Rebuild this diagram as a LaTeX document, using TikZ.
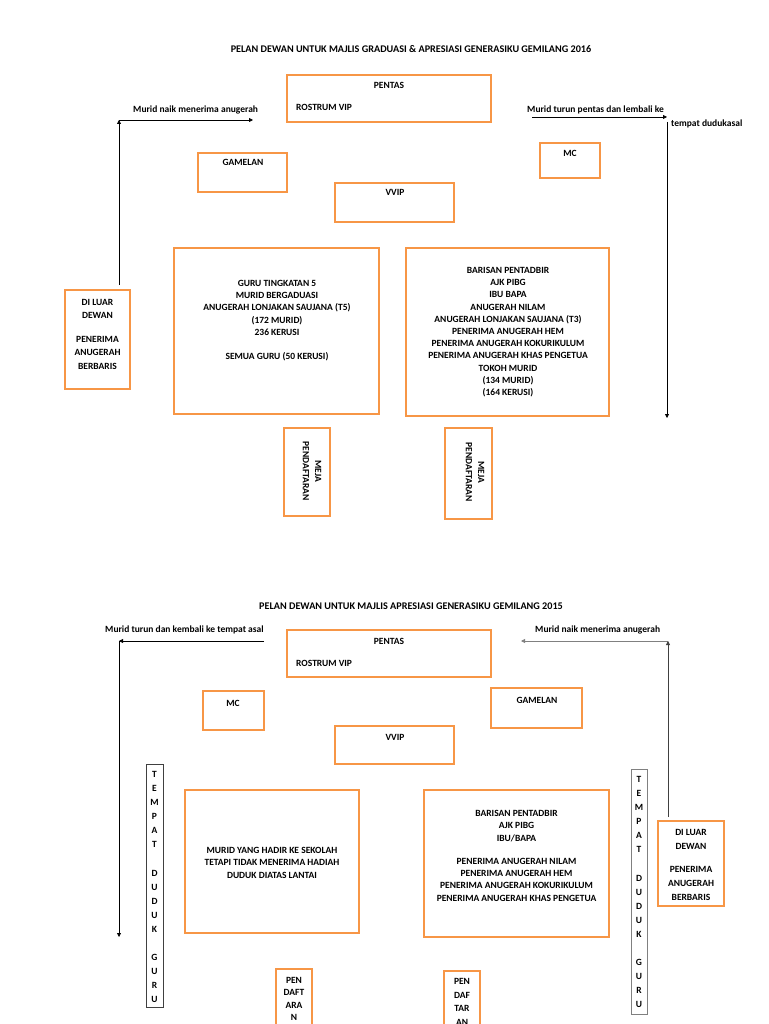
\documentclass[tikz,border=0pt]{standalone}
\usepackage{fontspec}
\setmainfont{Carlito}
\usepackage{tikz}
\usetikzlibrary{arrows.meta}
\definecolor{boxorange}{RGB}{247,150,70}
\definecolor{gurudark}{RGB}{64,64,64}
\definecolor{gurulight}{RGB}{128,128,128}

\begin{document}
\begin{tikzpicture}[
    x=1pt, y=-1pt,
    box/.style={draw=boxorange, line width=1.5pt, inner sep=0pt},
    gurubox/.style={draw=#1, line width=1pt, inner sep=0pt},
    lbl/.style={font=\bfseries\fontsize{9.5}{#1}\selectfont, inner sep=0pt, align=center},
    lbl/.default=12.2,
    tajuk/.style={font=\bfseries\fontsize{10.2}{12}\selectfont, inner sep=0pt},
    arrow/.style={-{Triangle[length=4pt, width=4pt]}, line width=0.8pt}
  ]
    \useasboundingbox (0,0) rectangle (768,1024);
    \clip (0,0) rectangle (768,1024);

    % pelan 2016
    \node[tajuk, anchor=base] (tajuk16) at (411,53) {PELAN DEWAN UNTUK MAJLIS GRADUASI \& APRESIASI GENERASIKU GEMILANG 2016};
    \node[box, minimum width=204, minimum height=47] (pentas16) at (389,98.5) {};
    \node[lbl, anchor=base] (pentasT16) at (389,89) {PENTAS};
    \node[lbl, anchor=base west] (rostrum16) at (296,111) {ROSTRUM VIP};
    \node[box, minimum width=60, minimum height=35] (mc16) at (570,160.5) {};
    \node[lbl, anchor=base] (mcT16) at (570,157) {MC};
    \node[box, minimum width=89, minimum height=39] (gamelan16) at (242.5,172.5) {};
    \node[lbl, anchor=base] (gamelanT16) at (243,166) {GAMELAN};
    \node[box, minimum width=119, minimum height=39] (vvip16) at (394.5,202.5) {};
    \node[lbl, anchor=base] (vvipT16) at (395,196) {VVIP};
    \node[box, minimum width=205, minimum height=166] (murid16) at (276.5,331) {};
    \node[lbl, anchor=north] (muridT16) at (277,280) {GURU TINGKATAN 5\\MURID BERGADUASI\\ANUGERAH LONJAKAN SAUJANA (T5)\\(172 MURID)\\236 KERUSI\\[12.2pt]SEMUA GURU (50 KERUSI)};
    \node[box, minimum width=203, minimum height=168] (pentadbir16) at (507.5,332) {};
    \node[lbl, anchor=north] (pentadbirT16) at (508,267) {BARISAN PENTADBIR\\AJK PIBG\\IBU BAPA\\ANUGERAH NILAM\\ANUGERAH LONJAKAN SAUJANA (T3)\\PENERIMA ANUGERAH HEM\\PENERIMA ANUGERAH KOKURIKULUM\\PENERIMA ANUGERAH KHAS PENGETUA\\TOKOH MURID\\(134 MURID)\\(164 KERUSI)};
    \node[box, minimum width=65, minimum height=99] (luar16) at (97.5,339.5) {};
    \node[lbl=13.5, anchor=north] (luarT16) at (97.5,299) {DI LUAR\\DEWAN\\[10pt]PENERIMA\\ANUGERAH\\BERBARIS};
    \node[box, minimum width=46, minimum height=88] (mejaA16) at (307,472) {};
    \node[lbl, rotate=-90] (mejaTA16) at (312,471) {MEJA\\PENDAFTARAN};
    \node[box, minimum width=47, minimum height=91] (mejaB16) at (468.5,473.5) {};
    \node[lbl, rotate=-90] (mejaTB16) at (475,472) {MEJA\\PENDAFTARAN};

    \node[lbl, anchor=base west] (naikT16) at (133,113) {Murid naik menerima anugerah};
    \node[lbl, anchor=base west] (turunT16) at (527,113) {Murid turun pentas dan lembali ke};
    \node[lbl, anchor=base west] (asalT16) at (671,127) {tempat dudukasal};
    \coordinate (naikA16) at (119,285);
    \coordinate (naikB16) at (119,120);
    \coordinate (naikC16) at (253,120);
    \coordinate (turunA16) at (532,117);
    \coordinate (turunB16) at (667,117);
    \coordinate (turunC16) at (667,122);
    \coordinate (turunD16) at (667,418);
    \draw[arrow] (naikA16) -- (naikB16);
    \draw[arrow] (naikB16) -- (naikC16);
    \draw[arrow] (turunA16) -- (turunB16);
    \draw[arrow] (turunC16) -- (turunD16);

    % pelan 2015
    \node[tajuk, anchor=base] (tajuk15) at (411,609) {PELAN DEWAN UNTUK MAJLIS APRESIASI GENERASIKU GEMILANG 2015};
    \node[box, minimum width=204, minimum height=47] (pentas15) at (389,653.5) {};
    \node[lbl, anchor=base] (pentasT15) at (389,644) {PENTAS};
    \node[lbl, anchor=base west] (rostrum15) at (296,666) {ROSTRUM VIP};
    \node[box, minimum width=61, minimum height=39] (mc15) at (233.5,710.5) {};
    \node[lbl, anchor=base] (mcT15) at (233,706) {MC};
    \node[box, minimum width=91, minimum height=40] (gamelan15) at (536.5,708) {};
    \node[lbl, anchor=base] (gamelanT15) at (537,703) {GAMELAN};
    \node[box, minimum width=119, minimum height=38] (vvip15) at (394.5,745) {};
    \node[lbl, anchor=base] (vvipT15) at (395,740) {VVIP};
    \node[gurubox=gurudark, minimum width=17, minimum height=243] (guruA15) at (154.5,885.5) {};
    \node[lbl=14.1, anchor=north] (guruTA15) at (154.5,771) {T\\E\\M\\P\\A\\T\\[14.1pt]D\\U\\D\\U\\K\\[14.1pt]G\\U\\R\\U};
    \node[gurubox=gurulight, minimum width=16, minimum height=245] (guruB15) at (639,891.5) {};
    \node[lbl=14.1, anchor=north] (guruTB15) at (639,776) {T\\E\\M\\P\\A\\T\\[14.1pt]D\\U\\D\\U\\K\\[14.1pt]G\\U\\R\\U};
    \node[box, minimum width=174, minimum height=143] (murid15) at (272,861.5) {};
    \node[lbl=12.5, anchor=north] (muridT15) at (272,847) {MURID YANG HADIR KE SEKOLAH\\TETAPI TIDAK MENERIMA HADIAH\\DUDUK DIATAS LANTAI};
    \node[box, minimum width=185, minimum height=147] (pentadbir15) at (516.5,863.5) {};
    \node[lbl=12.3, anchor=north] (pentadbirT15) at (516.5,810) {BARISAN PENTADBIR\\AJK PIBG\\IBU/BAPA\\[11pt]PENERIMA ANUGERAH NILAM\\PENERIMA ANUGERAH HEM\\PENERIMA ANUGERAH KOKURIKULUM\\PENERIMA ANUGERAH KHAS PENGETUA};
    \node[box, minimum width=66, minimum height=85] (luar15) at (691,863.5) {};
    \node[lbl=14, anchor=north] (luarT15) at (691,829) {DI LUAR\\DEWAN\\[9pt]PENERIMA\\ANUGERAH\\BERBARIS};
    \node[box, minimum width=36, minimum height=71] (daftarA15) at (294,1004.5) {};
    \node[lbl=12.5, anchor=north] (daftarTA15) at (294,977) {PEN\\DAFT\\ARA\\N};
    \node[box, minimum width=36, minimum height=69] (daftarB15) at (462,1005.5) {};
    \node[lbl=13.7, anchor=north] (daftarTB15) at (462,978) {PEN\\DAF\\TAR\\AN};

    \node[lbl, anchor=base west] (turunT15) at (105,632) {Murid turun dan kembali ke tempat asal};
    \node[lbl, anchor=base west] (naikT15) at (535,632) {Murid naik menerima anugerah};
    \coordinate (turunA15) at (264,641);
    \coordinate (turunB15) at (119,641);
    \coordinate (turunC15) at (119,937);
    \coordinate (naikA15) at (668,817);
    \coordinate (naikB15) at (668,641);
    \coordinate (naikC15) at (521,641);
    \draw[arrow] (turunA15) -- (turunB15);
    \draw[arrow] (turunB15) -- (turunC15);
    \draw[arrow, gurulight] (naikB15) -- (naikC15);
    \draw[arrow, gurudark] (naikA15) -- (naikB15);
  \end{tikzpicture}
\end{document}
